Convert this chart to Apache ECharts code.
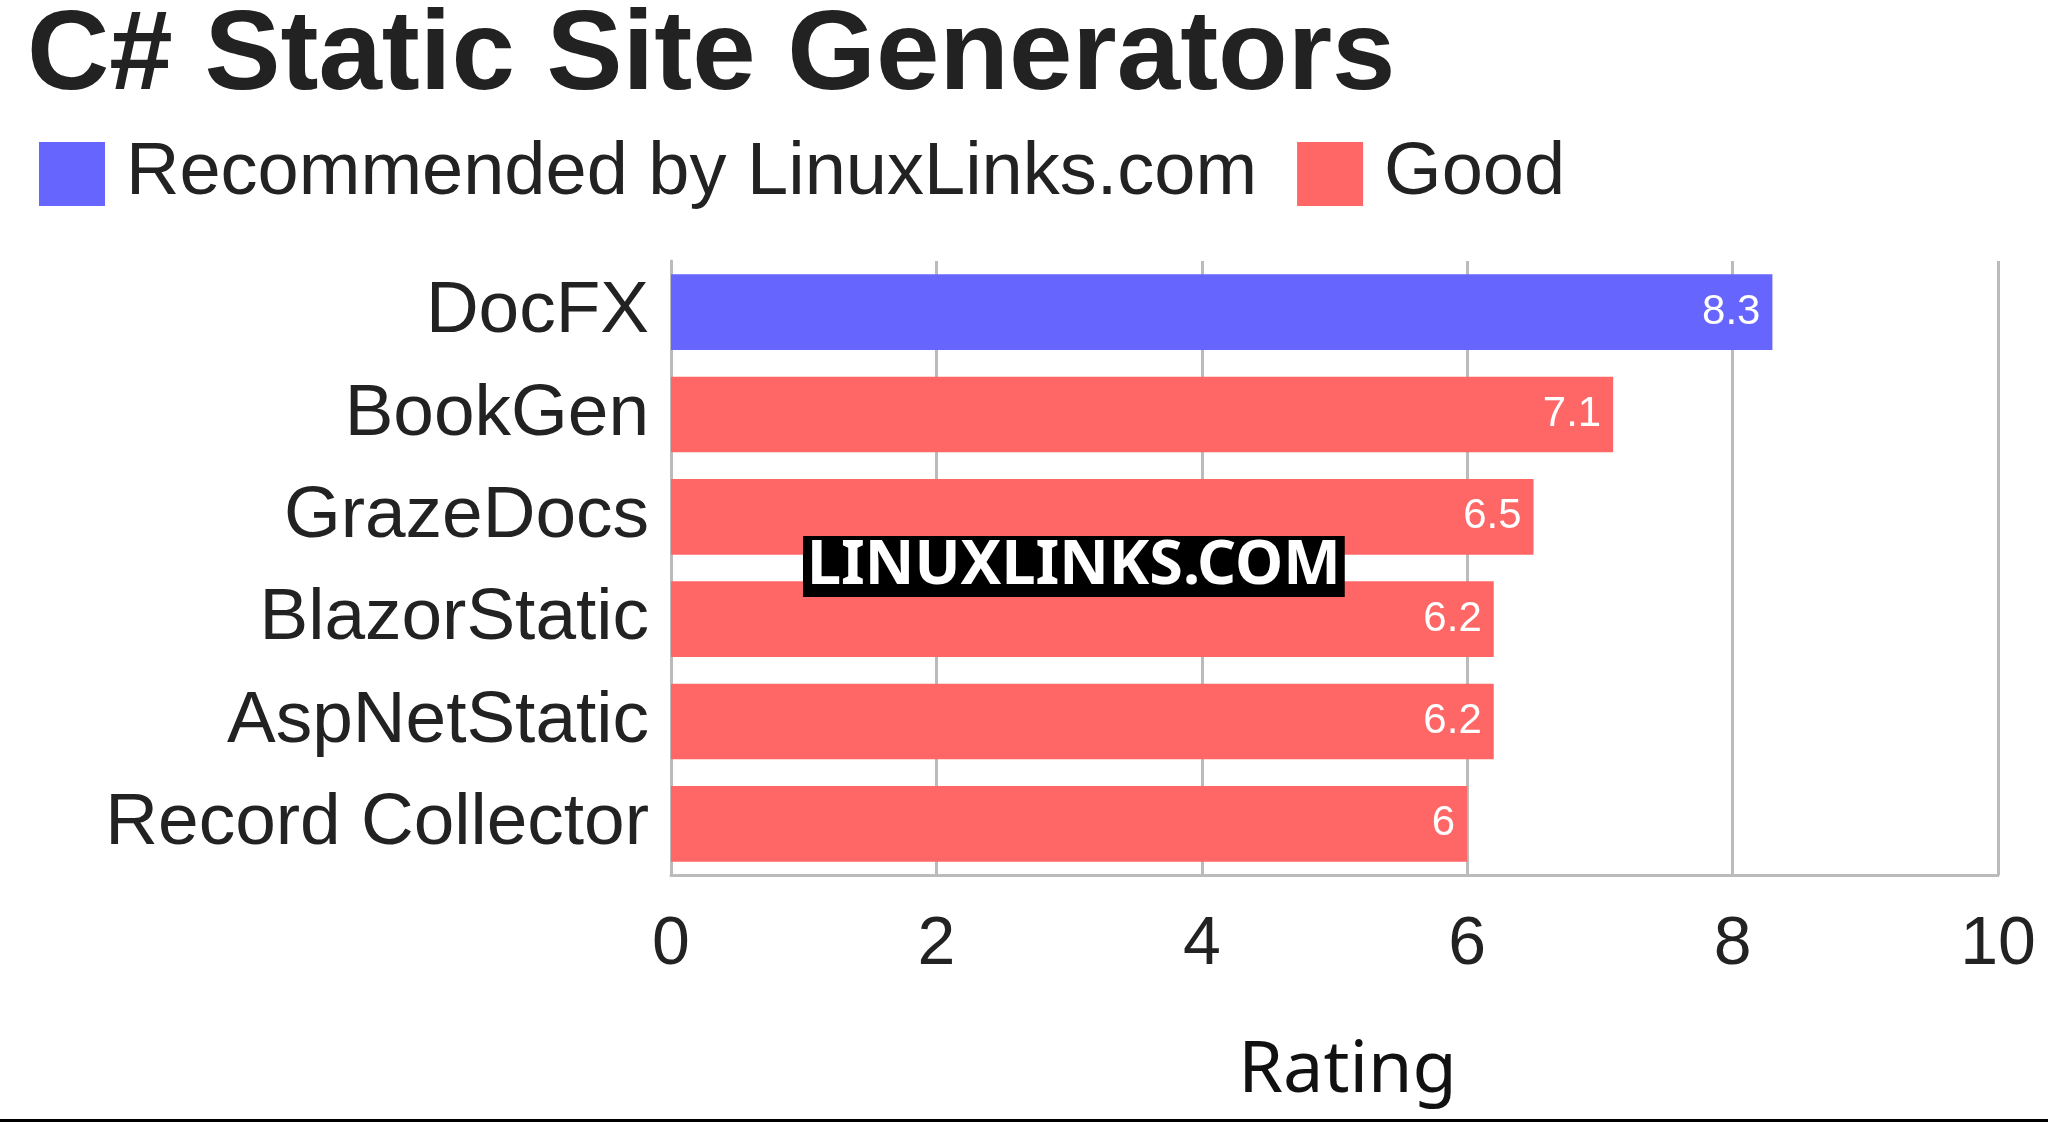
<!DOCTYPE html>
<html lang="en">
<head>
    <meta charset="UTF-8">
    <title>C# Static Site Generators</title>
    <script src="https://cdn.jsdelivr.net/npm/echarts@6/dist/echarts.min.js"></script>
    <style>body{margin:0;} #main{width:2048px;height:1124px;}</style>
</head>
<body>
    <div id="main"></div>
    <script>
        var names = ['DocFX', 'BookGen', 'GrazeDocs', 'BlazorStatic', 'AspNetStatic', 'Record Collector'];
        var recommended = [8.3, null, null, null, null, null];
        var good = [null, 7.1, 6.5, 6.2, 6.2, 6];

        var font = 'Liberation Sans, Arial, sans-serif';
        var myChart = echarts.init(document.getElementById('main'));
        var barLabel = {
            show: true, position: 'insideRight', color: '#fff',
            fontSize: 42, fontFamily: font, distance: 12
        };
        myChart.setOption({
            backgroundColor: '#fff',
            animation: false,
            title: {
                text: 'C# Static Site Generators', left: 22, top: -4,
                textStyle: { fontSize: 114, fontWeight: 'bold', color: '#222', fontFamily: font }
            },
            legend: {
                left: 34, top: 132, itemWidth: 66, itemHeight: 64, itemGap: 40,
                icon: 'rect',
                textStyle: { fontSize: 74, color: '#222', fontFamily: font, padding: [0, 0, 0, 16] },
                data: ['Recommended by LinuxLinks.com', 'Good']
            },
            grid: { left: 671, right: 50, top: 261, bottom: 249 },
            xAxis: {
                type: 'value', min: 0, max: 10, interval: 2,
                name: 'Rating', nameLocation: 'middle', nameGap: 160,
                nameTextStyle: { fontSize: 72, color: '#111', fontFamily: 'Noto Sans', padding: [0, 0, 0, 26] },
                axisLabel: { fontSize: 68, color: '#222', fontFamily: font, margin: 36 },
                axisLine: { show: true, lineStyle: { color: '#bbb', width: 3 } },
                axisTick: { show: false },
                splitLine: { lineStyle: { color: '#bbb', width: 3 } }
            },
            yAxis: {
                type: 'category', data: names, inverse: true,
                axisLabel: { fontSize: 73, color: '#222', fontFamily: font, margin: 22 },
                axisLine: { lineStyle: { color: '#bbb', width: 3 } },
                axisTick: { show: false }
            },
            series: [
                { name: 'Recommended by LinuxLinks.com', type: 'bar', stack: 'a', data: recommended,
                  barCategoryGap: '26%', itemStyle: { color: '#6666ff' }, label: barLabel },
                { name: 'Good', type: 'bar', stack: 'a', data: good,
                  itemStyle: { color: '#ff6666' }, label: barLabel }
            ],
            graphic: [
                { type: 'rect', shape: { x: 0, y: 1119, width: 2048, height: 3 }, style: { fill: '#000' } },
                { type: 'text', left: 803, top: 536, z: 100,
                  style: { text: 'LINUXLINKS.COM', fill: '#fff', backgroundColor: '#000',
                           font: 'bold 61px "Noto Sans", sans-serif', padding: [0, 4, 0, 4] } }
            ]
        });
    </script>
</body>
</html>
